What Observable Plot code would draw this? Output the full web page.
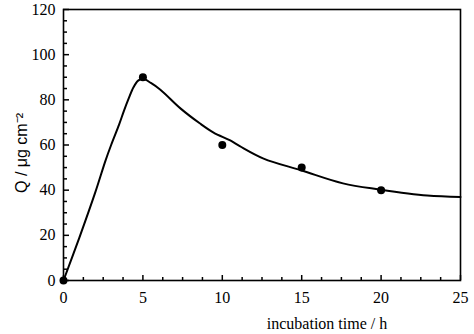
<!DOCTYPE html>
<html>
<head>
<meta charset="utf-8">
<script src="https://cdn.jsdelivr.net/npm/d3@7"></script>
<script src="https://cdn.jsdelivr.net/npm/@observablehq/plot@0.6"></script>
<style>
  body { margin: 0; background: #fff; }
  #chart svg { display: block; font-family: 'Liberation Serif', 'Times New Roman', serif; }
  #chart svg g[aria-label$="tick label"],
  #chart svg g[aria-label$="tick label"] text { font-family: 'Liberation Serif', 'Times New Roman', serif !important; }
</style>
</head>
<body>
<div id="chart"></div>
<script>
// Measured points
const measTime = [0, 5, 10, 15, 20];
const measQ = [0, 90, 60, 50, 40];

// Fitted curve
const curveTime = [0, 1, 2, 2.64, 3.0, 3.5, 3.8, 4.1, 4.4, 4.7, 5.0, 5.5, 6.1, 7.4, 8.6, 9.45, 10.5, 11.1, 12.6, 15.0, 17.6, 19.9, 22.9, 25];
const curveQ    = [0, 19, 39, 53, 60, 69, 75, 80.5, 85.5, 88.5, 89.3, 87.5, 84.5, 76, 69.5, 65.5, 62, 59.5, 54, 48.7, 43, 40.3, 37.6, 37];

// Tick values
const xTickLabels = [0, 5, 10, 15, 20, 25];
const yTickLabels = [0, 20, 40, 60, 80, 100, 120];
const xMinorTicks = d3.range(0, 25.001, 1.25).filter(v => v % 5 !== 0);
const yMinorTicks = d3.range(0, 120.001, 5).filter(v => v % 20 !== 0);

const measured = measTime.map((t, i) => ({t, q: measQ[i]}));
const fitted = curveTime.map((t, i) => ({t, q: curveQ[i]}));

const W = 474, H = 334;
const mL = 63, mR = 14, mT = 9, mB = 54;
const fw = W - mL - mR, fh = H - mT - mB;

const serif = "'Liberation Serif', 'Times New Roman', serif";
const sans = "'Liberation Sans', Arial, sans-serif";

const chart = Plot.plot({
  width: W,
  height: H,
  marginLeft: mL,
  marginRight: mR,
  marginTop: mT,
  marginBottom: mB,
  style: "background: #fff; color: #000; font-family: 'Liberation Serif', 'Times New Roman', serif;",
  x: {domain: [0, 25]},
  y: {domain: [0, 120]},
  marks: [
    // inward ticks
    Plot.tickX(xTickLabels, {x: d => d, insetTop: fh - 5, stroke: "#000", strokeWidth: 1.5}),
    Plot.tickX(xMinorTicks, {x: d => d, insetTop: fh - 3, stroke: "#000", strokeWidth: 1.5}),
    Plot.tickY(yTickLabels, {y: d => d, insetRight: fw - 6, stroke: "#000", strokeWidth: 1.5}),
    Plot.tickY(yMinorTicks, {y: d => d, insetRight: fw - 4, stroke: "#000", strokeWidth: 1.5}),
    Plot.axisX({ticks: xTickLabels, tickSize: 0, tickPadding: 11, fontSize: 16, fontFamily: serif, label: null}),
    Plot.axisY({ticks: yTickLabels, tickSize: 0, tickPadding: 8, fontSize: 16, fontFamily: serif, label: null}),
    Plot.frame({stroke: "#000", strokeWidth: 1.6}),
    Plot.line(fitted, {x: "t", y: "q", curve: "catmull-rom", stroke: "#000", strokeWidth: 2}),
    Plot.dot(measured, {x: "t", y: "q", r: 4, fill: "#000", stroke: "none"}),
    Plot.text(["incubation time / h"], {frameAnchor: "bottom", dx: 65, dy: 48, lineAnchor: "bottom", fontSize: 16, fontFamily: serif, fill: "#000"}),
    Plot.text(["Q / μg cm⁻²"], {frameAnchor: "left", textAnchor: "middle", rotate: -90, dx: -42, dy: 8, lineAnchor: "middle", fontSize: 16, fontFamily: sans, fill: "#000"})
  ]
});
document.getElementById("chart").appendChild(chart);
</script>
</body>
</html>
